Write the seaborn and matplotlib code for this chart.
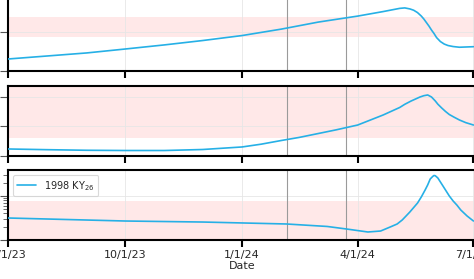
import matplotlib
matplotlib.use("Agg")
import matplotlib.pyplot as plt
import matplotlib.dates as mdates
import seaborn as sns
import pandas as pd

# ---------------- data ----------------
top_dates = ["2023-07-01", "2023-08-01", "2023-09-01", "2023-10-01", "2023-11-01",
             "2023-12-01", "2024-01-01", "2024-02-01", "2024-03-01", "2024-04-01",
             "2024-04-21", "2024-05-04", "2024-05-08", "2024-05-12", "2024-05-15",
             "2024-05-18", "2024-05-21", "2024-05-23", "2024-05-25", "2024-05-27",
             "2024-05-29", "2024-05-31", "2024-06-02", "2024-06-05", "2024-06-08",
             "2024-06-11", "2024-06-15", "2024-06-20", "2024-07-01"]
top_values = [15.4, 19.3, 23.2, 28.2, 33.5, 39.1, 45.5, 53.8, 62.8, 70.5,
              76.3, 80.4, 81.0, 79.7, 78.0, 75.0, 70.5, 66.7, 62.2, 57.7,
              52.6, 48.1, 42.9, 37.8, 34.6, 32.7, 31.4, 30.5, 31.2]

mid_dates = ["2023-07-01", "2023-08-01", "2023-09-01", "2023-10-01", "2023-11-01",
             "2023-12-01", "2024-01-01", "2024-01-16", "2024-02-01", "2024-02-15",
             "2024-03-01", "2024-03-15", "2024-04-01", "2024-04-21", "2024-05-04",
             "2024-05-08", "2024-05-13", "2024-05-20", "2024-05-23", "2024-05-26",
             "2024-05-29", "2024-06-01", "2024-06-03", "2024-06-06", "2024-06-09",
             "2024-06-12", "2024-06-16", "2024-06-20", "2024-06-25", "2024-07-01"]
mid_values = [11.9, 10.7, 9.7, 9.3, 9.3, 11.0, 15.3, 20.0, 26.3, 31.5,
              38.1, 44.3, 52.5, 69.5, 82.2, 87.6, 93.2, 100.0, 102.2, 103.4,
              100.0, 93.2, 87.8, 81.4, 75.5, 70.3, 65.5, 61.0, 56.5, 52.5]

bot_dates = ["2023-07-01", "2023-10-01", "2023-12-01", "2024-02-05", "2024-03-08",
             "2024-03-23", "2024-04-09", "2024-04-19", "2024-04-27", "2024-05-02",
             "2024-05-06", "2024-05-09", "2024-05-12", "2024-05-18", "2024-05-21",
             "2024-05-24", "2024-05-26", "2024-05-28", "2024-05-30", "2024-05-31",
             "2024-06-01", "2024-06-03", "2024-06-05", "2024-06-07", "2024-06-09",
             "2024-06-12", "2024-06-15", "2024-06-18", "2024-06-21", "2024-06-26",
             "2024-07-01"]
bot_values = [3.16, 2.70, 2.56, 2.31, 2.03, 1.78, 1.52, 1.60, 2.0, 2.31,
              2.85, 3.51, 4.33, 6.9, 9.5, 13.7, 17.8, 24.3, 27.8, 29.2,
              28.8, 25.6, 20.8, 16.9, 13.7, 10.0, 7.7, 6.2, 4.81, 3.51,
              2.70]

series_label = "1998 KY$_{26}$"
tick_dates = ["2023-07-01", "2023-10-01", "2024-01-01", "2024-04-01", "2024-07-01"]
event_dates = ["2024-02-05", "2024-03-23"]

top_band = (44, 69)
mid_band = (30, 200)
bot_band = (0.5, 7.7)

# ---------------- styling ----------------
sns.set_theme(style="ticks")
plt.rcParams["font.family"] = ["DejaVu Sans"]

W, H = 474, 279
fig = plt.figure(figsize=(W / 100, H / 100), dpi=100)

def box(top_px, bot_px):
    left = 8 / W
    width = (476 - 8) / W
    return [left, (H - bot_px) / H, width, (bot_px - top_px) / H]

ax1 = fig.add_axes(box(-3, 71))
ax2 = fig.add_axes(box(86, 156))
ax3 = fig.add_axes(box(170, 240))

line_color = "#26b0e6"
xmin, xmax = pd.Timestamp("2023-07-01"), pd.Timestamp("2024-07-03")

panels = [
    (ax1, top_dates, top_values, top_band, (0, 95), [0, 50], False),
    (ax2, mid_dates, mid_values, mid_band, (0, 118.6), [0, 50, 100], False),
    (ax3, bot_dates, bot_values, bot_band, (1, 38.9), None, True),
]

for ax, dts, vals, band, ylim, yticks, is_log in panels:
    df = pd.DataFrame({"Date": pd.to_datetime(dts), "value": vals})
    ax.axhspan(band[0], band[1], color="red", alpha=0.09, lw=0, zorder=0)
    for ed in event_dates:
        ax.axvline(pd.Timestamp(ed), color="#9a9a9a", lw=0.8, zorder=1)
    sns.lineplot(data=df, x="Date", y="value", ax=ax, color=line_color, lw=1.2,
                 label=series_label if is_log else None, legend=is_log, zorder=3)
    if is_log:
        ax.set_yscale("log")
    ax.set_ylim(*ylim)
    if yticks is not None:
        ax.set_yticks(yticks)
    ax.set_xlim(xmin, xmax)
    ax.set_xticks(pd.to_datetime(tick_dates))
    ax.xaxis.set_major_formatter(mdates.DateFormatter("%-m/%-d/%y"))
    ax.grid(True, which="major", color="#e6e6e6", lw=0.6, zorder=0)
    ax.set_axisbelow(True)
    for sp in ax.spines.values():
        sp.set_linewidth(1.5)
        sp.set_color("black")
    ax.tick_params(axis="x", which="major", direction="out", length=5, width=1.5,
                   color="black", labelsize=8, pad=2)
    ax.tick_params(axis="y", which="major", direction="out", length=6, width=0.8,
                   color="#555555", labelleft=False)
    ax.tick_params(axis="y", which="minor", direction="out", length=3.5, width=0.6,
                   color="#555555", labelleft=False)
    ax.set_ylabel("")
    if ax is not ax3:
        ax.tick_params(axis="x", labelbottom=False)
        ax.set_xlabel("")

ax3.set_xlabel("Date", fontsize=8, labelpad=1)
leg = ax3.legend(loc="upper left", fontsize=7, frameon=True, handlelength=2.0)
leg.get_frame().set_edgecolor("#d0d0d0")
leg.get_frame().set_linewidth(0.8)

fig.savefig("out.png", dpi=100)
